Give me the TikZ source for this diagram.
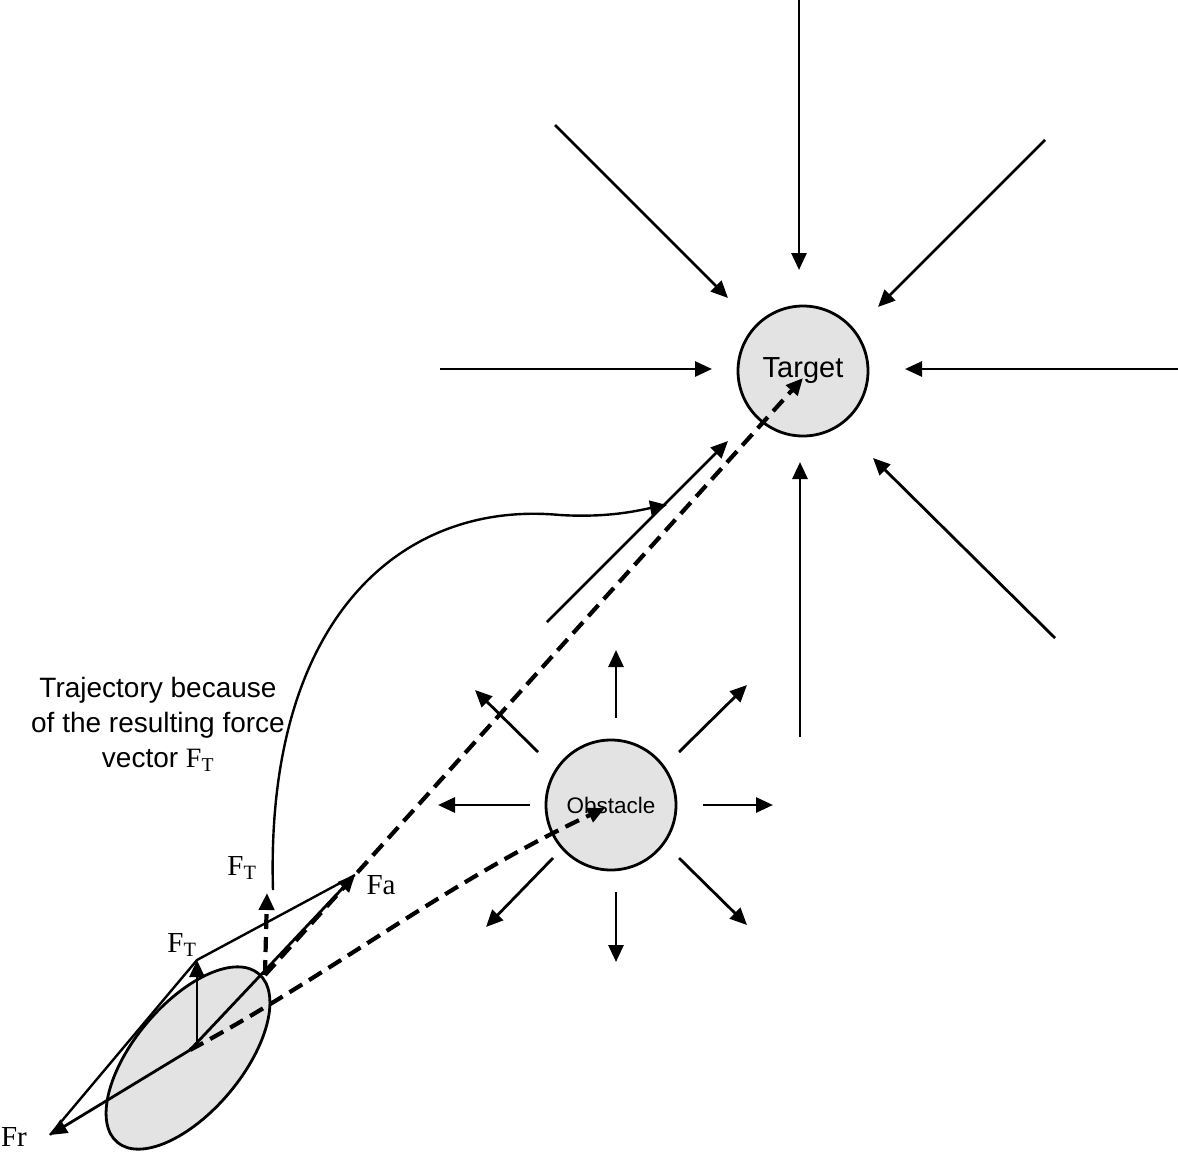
\documentclass[tikz,border=0pt]{standalone}
\usepackage{fontspec}
\setsansfont{Liberation Sans}
\setmainfont{Liberation Serif}
\usetikzlibrary{arrows.meta}
\begin{document}
\begin{tikzpicture}[x=1pt,y=-1pt,
  ar/.style={line width=2.8pt,-{Triangle[length=17pt,width=15pt]}},
  dsh/.style={line width=4.2pt,dash pattern=on 15pt off 8pt},
  lab/.style={font=\fontsize{29}{30}\selectfont},
  thin/.style={line width=2.4pt}]
\useasboundingbox (0,0) rectangle (1178,1154);
\node[circle,draw,line width=2.8pt,fill=gray!22,minimum size=130pt,font=\sffamily\fontsize{29}{32}\selectfont] (T) at (803,371) {Target};
\node[circle,draw,line width=2.8pt,fill=gray!22,minimum size=130pt,font=\sffamily\fontsize{22.5}{26}\selectfont] (O) at (611,805) {Obstacle};
% target arrows
\coordinate (t1s) at (799,0); \coordinate (t1e) at (799,270);
\draw[ar] (t1s) -- (t1e);
\coordinate (t2s) at (555,125); \coordinate (t2e) at (728,298); \draw[ar] (t2s) -- (t2e);
\coordinate (t3s) at (1045,140); \coordinate (t3e) at (878,307); \draw[ar] (t3s) -- (t3e);
\coordinate (t4s) at (440,369); \coordinate (t4e) at (712,369); \draw[ar] (t4s) -- (t4e);
\coordinate (t5s) at (1178,369); \coordinate (t5e) at (905,369); \draw[ar] (t5s) -- (t5e);
\coordinate (t6s) at (800,737); \coordinate (t6e) at (800,462); \draw[ar] (t6s) -- (t6e);
\coordinate (t7s) at (1055,638); \coordinate (t7e) at (873,458); \draw[ar] (t7s) -- (t7e);
\coordinate (t8s) at (547,622); \coordinate (t8e) at (728,441); \draw[ar] (t8s) -- (t8e);
% obstacle arrows
\coordinate (o1s) at (616,718); \coordinate (o1e) at (616,650); \draw[ar] (o1s) -- (o1e);
\coordinate (o2s) at (538,752); \coordinate (o2e) at (475,690); \draw[ar] (o2s) -- (o2e);
\coordinate (o3s) at (679,752); \coordinate (o3e) at (747,685); \draw[ar] (o3s) -- (o3e);
\coordinate (o4s) at (530,805); \coordinate (o4e) at (438,805); \draw[ar] (o4s) -- (o4e);
\coordinate (o5s) at (703,805); \coordinate (o5e) at (773,805); \draw[ar] (o5s) -- (o5e);
\coordinate (o6s) at (553,858); \coordinate (o6e) at (486,927); \draw[ar] (o6s) -- (o6e);
\coordinate (o7s) at (616,892); \coordinate (o7e) at (616,962); \draw[ar] (o7s) -- (o7e);
\coordinate (o8s) at (679,858); \coordinate (o8e) at (747,925); \draw[ar] (o8s) -- (o8e);
% robot
\draw[line width=2.8pt,fill=gray!22,rotate around={50:(188,1058)}] (188,1058) ellipse (110pt and 54pt);
\coordinate (C) at (190,1050);
\coordinate (Fr) at (50,1135);
\coordinate (Fa) at (355,875);
\coordinate (P) at (197,960);
\coordinate (Q) at (265,975);
\coordinate (Q2) at (267,893);
\draw[thin] (Fr) -- (P) -- (Fa);
\draw[ar] (C) -- (Fr);
\draw[ar] (197,1046) -- (P);
\draw[ar] (C) -- (Fa);
\draw[dsh,-{Triangle[length=17pt,width=15pt]}] (Q) -- (Q2);
\draw[dsh,-{Triangle[length=17pt,width=15pt]}] (Q) -- (803,378);
\draw[dsh,-{Triangle[length=17pt,width=15pt]}] (C) .. controls (330,975) and (450,880) .. (605,808);
\draw[thin,-{Triangle[length=17pt,width=15pt]}] (273,890) .. controls (265,620) and (400,500) .. (560,515) .. controls (610,518) and (640,510) .. (667,505);
% labels
\node[lab] (lFT1) at (242,868) {F$_{\mathrm T}$};
\node[lab] (lFT2) at (182,945) {F$_{\mathrm T}$};
\node[lab] (lFa) at (381,885) {Fa};
\node[lab] (lFr) at (14,1137) {Fr};
\node[font=\sffamily\fontsize{28}{35}\selectfont,align=center] (traj) at (158,724) {Trajectory because\\of the resulting force\\vector {\rmfamily F$_{\mathrm T}$}};
\end{tikzpicture}
\end{document}
